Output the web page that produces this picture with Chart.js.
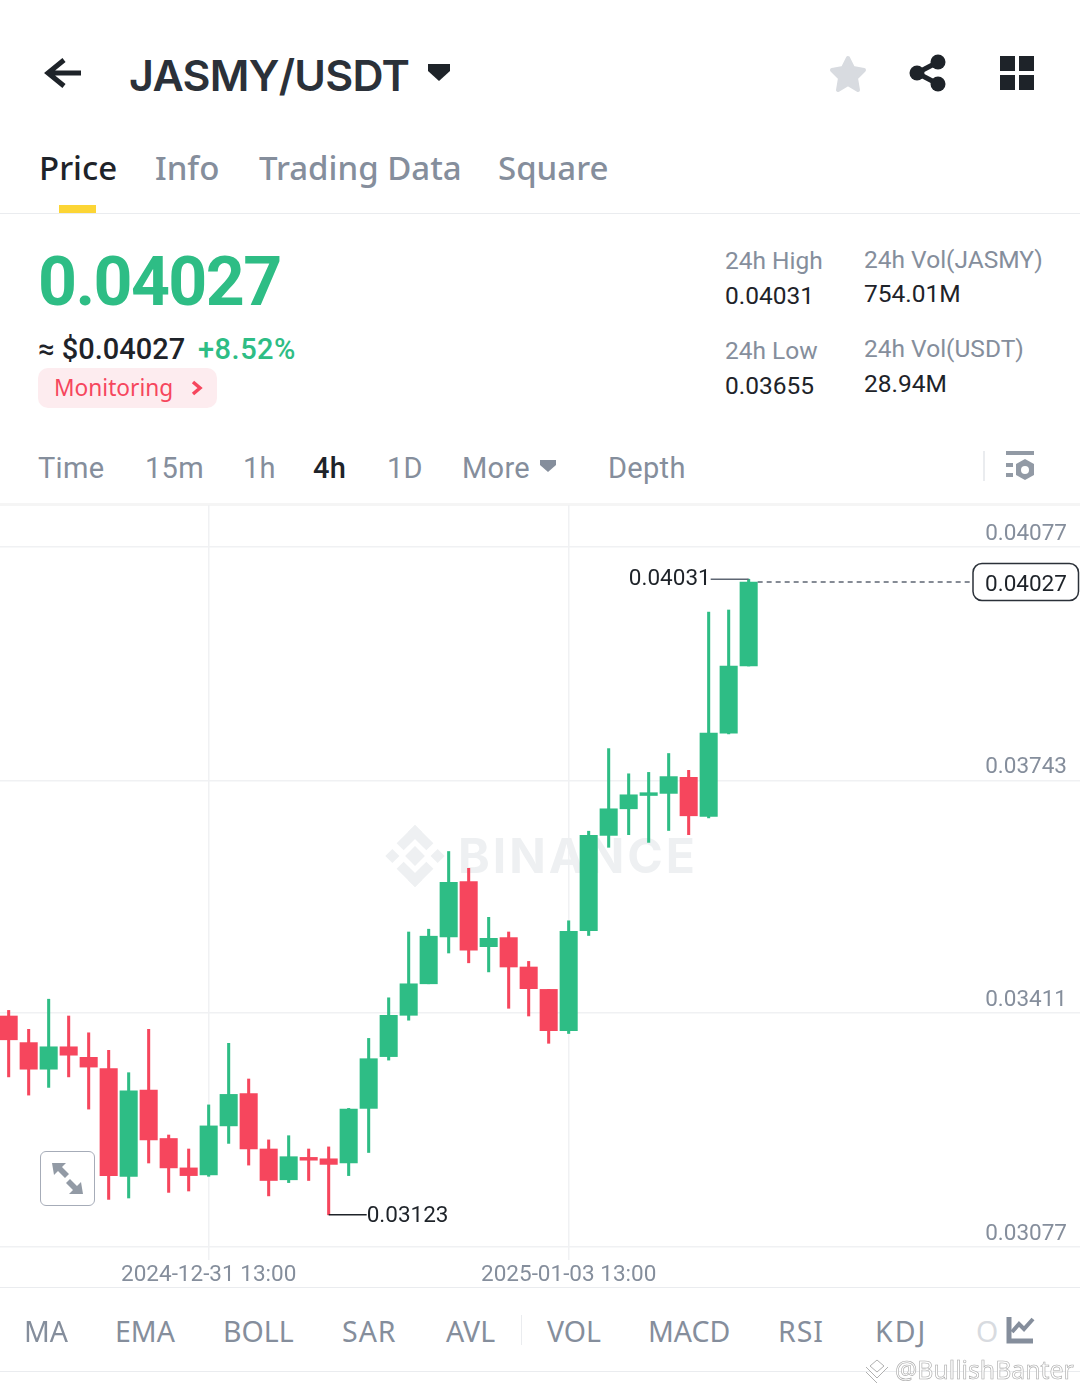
<!DOCTYPE html>
<html>
<head>
<meta charset="utf-8">
<title>JASMY/USDT</title>
<script src="https://cdn.jsdelivr.net/npm/chart.js@4/dist/chart.umd.min.js"></script>
<style>
  html, body { margin: 0; padding: 0; background: #fff; }
  #page { position: relative; width: 1080px; height: 1391px; overflow: hidden; font-family: "Noto Sans", sans-serif; }
  #page canvas { position: absolute; left: 0; top: 505px; }
  .t { position: absolute; line-height: 1; white-space: nowrap; transform: translateY(-50%); color: #858e9c; z-index: 2; }
  .line { position: absolute; background: #eaecef; }
  .tab { font-size: 33px; font-weight: 500; }
  .stat { font-size: 24.5px; font-family: Roboto, sans-serif; }
  .dark { color: #1e2329; }
  .iv { font-size: 29px; font-family: Roboto, sans-serif; letter-spacing: .3px; }
  .ind { font-size: 28.5px; }
  svg { position: absolute; left: 0; top: 0; z-index: 3; }
</style>
</head>
<body>
<div id="page">
  <div class="t" style="left:129px;top:75px;font-size:43px;font-weight:600;color:#2b3139;font-family:Inter,sans-serif;letter-spacing:-.7px">JASMY/USDT</div>

  <div class="t tab dark" style="left:39px;top:167px">Price</div>
  <div class="t tab" style="left:155px;top:167px">Info</div>
  <div class="t tab" style="left:259px;top:167px">Trading Data</div>
  <div class="t tab" style="left:498px;top:167px">Square</div>
  <div class="line" style="left:59px;top:205px;width:37px;height:8px;background:#fcd535"></div>
  <div class="line" style="left:0;top:213px;width:1080px;height:1px"></div>

  <div class="t" style="left:38px;top:282px;font-size:68px;font-weight:700;color:#2ebd85;font-family:Roboto,sans-serif;letter-spacing:-1.6px">0.04027</div>
  <div class="t dark" style="left:38px;top:349px;font-size:29px;font-weight:500;font-family:Roboto,sans-serif">≈ $0.04027</div>
  <div class="t" style="left:198px;top:349px;font-size:29px;font-weight:500;color:#2ebd85;font-family:Roboto,sans-serif;letter-spacing:.5px">+8.52%</div>
  <div class="line" style="left:38px;top:368px;width:179px;height:40px;border-radius:10px;background:#fdecef"></div>
  <div class="t" style="left:54px;top:388px;font-size:22.7px;color:#f6465d">Monitoring</div>

  <div class="t stat" style="left:725px;top:261px">24h High</div>
  <div class="t stat dark" style="left:725px;top:296px">0.04031</div>
  <div class="t stat" style="left:725px;top:351px">24h Low</div>
  <div class="t stat dark" style="left:725px;top:386px">0.03655</div>
  <div class="t stat" style="left:864px;top:260px">24h Vol(JASMY)</div>
  <div class="t stat dark" style="left:864px;top:294px">754.01M</div>
  <div class="t stat" style="left:864px;top:349px">24h Vol(USDT)</div>
  <div class="t stat dark" style="left:864px;top:384px">28.94M</div>

  <div class="t iv" style="left:38px;top:468px">Time</div>
  <div class="t iv" style="left:145px;top:468px">15m</div>
  <div class="t iv" style="left:243px;top:468px">1h</div>
  <div class="t iv dark" style="left:313px;top:468px;font-weight:500">4h</div>
  <div class="t iv" style="left:387px;top:468px">1D</div>
  <div class="t iv" style="left:462px;top:468px">More</div>
  <div class="t iv" style="left:608px;top:468px">Depth</div>
  <div class="line" style="left:983px;top:451px;width:2px;height:30px"></div>
  <div class="line" style="left:0;top:503px;width:1080px;height:3px;background:#f5f5f5"></div>

  <canvas id="klineChart" width="1080" height="782" style="width:1080px;height:782px"></canvas>

  <div class="line" style="left:40px;top:1151px;width:53px;height:53px;border:1.5px solid #a6acb8;border-radius:6px;background:#fff;z-index:2"></div>

  <div class="line" style="left:0;top:1287px;width:1080px;height:1px"></div>
  <div class="t ind" style="left:24px;top:1331px">MA</div>
  <div class="t ind" style="left:115px;top:1331px">EMA</div>
  <div class="t ind" style="left:223px;top:1331px">BOLL</div>
  <div class="t ind" style="left:342px;top:1331px;letter-spacing:1px">SAR</div>
  <div class="t ind" style="left:446px;top:1331px">AVL</div>
  <div class="line" style="left:521px;top:1315px;width:1px;height:30px"></div>
  <div class="t ind" style="left:547px;top:1331px">VOL</div>
  <div class="t ind" style="left:648px;top:1331px">MACD</div>
  <div class="t ind" style="left:778px;top:1331px;letter-spacing:1px">RSI</div>
  <div class="t ind" style="left:875px;top:1331px;letter-spacing:2px">KDJ</div>
  <div class="t ind" style="left:976px;top:1331px;color:#d8dbe0">O</div>
  <div class="line" style="left:0;top:1371px;width:1080px;height:1px"></div>
  <div class="t" style="left:895px;top:1369px;font-size:24.8px;color:#fff;-webkit-text-stroke:.6px #a8a8a8;z-index:4">@BullishBanter</div>

  <svg width="1080" height="1391" viewBox="0 0 1080 1391">
    <!-- back arrow and caret -->
    <path d="M81 73H50M64 60L48 73L64 86" fill="none" stroke="#1e2329" stroke-width="5"/>
    <path d="M428 64H450V71L439 81L428 71Z" fill="#1e2329"/>
    <!-- star, share, grid -->
    <path d="M848 58L853 68L864 70L856 78L858 90L848 84L838 90L840 78L832 70L843 68Z" fill="#d8dbe0" stroke="#d8dbe0" stroke-width="4" stroke-linejoin="round"/>
    <path d="M938 62L917 73L938 84" fill="none" stroke="#1e2329" stroke-width="5"/>
    <circle cx="938" cy="62" r="7.5" fill="#1e2329"/><circle cx="917" cy="73" r="7.5" fill="#1e2329"/><circle cx="938" cy="84" r="7.5" fill="#1e2329"/>
    <path d="M1000 56h15v15h-15zM1019 56h15v15h-15zM1000 75h15v15h-15zM1019 75h15v15h-15z" fill="#1e2329"/>
    <!-- monitoring chevron, more caret -->
    <path d="M193 382L200 388L193 394" fill="none" stroke="#f6465d" stroke-width="3.5"/>
    <path d="M540 460H556V465L548 472L540 465Z" fill="#858e9c"/>
    <!-- chart settings -->
    <path d="M1006 451h28v4h-28zM1006 463h7v4h-7zM1006 473h7v4h-7z" fill="#929aa5"/>
    <path d="M1025 459L1034 464V475L1025 480L1016 475V464Z" fill="#929aa5"/>
    <circle cx="1025" cy="470" r="4" fill="#fff"/>
    <!-- expand button -->
    <path d="M52 1163h14l-4 4 7 7-4 4-7-7-4 4-2-12zM83 1194h-14l4-4-7-7 4-4 7 7 4-4 2 12z" fill="#929aa5"/>
    <!-- indicator icon -->
    <path d="M1009 1317V1341H1033" fill="none" stroke="#858e9c" stroke-width="5"/>
    <path d="M1012 1332L1019 1324L1024 1329L1033 1319" fill="none" stroke="#858e9c" stroke-width="4"/>
    <!-- watermark logo -->
    <path d="M877 1360L884 1366L877 1372L870 1366ZM866 1367L877 1378L888 1367M877 1383L866 1372" fill="#fff" stroke="#b0b0b0" stroke-width="1"/>
  </svg>
</div>

<script>
// 4h candles
const openPrices  = [0.03407,0.03369,0.03331,0.03363,0.03348,0.03332,0.03178,0.03301,0.03232,0.03190,0.03180,0.03250,0.03296,0.03217,0.03173,0.03205,0.03203,0.03197,0.03275,0.03349,0.03408,0.03453,0.03520,0.03599,0.03506,0.03519,0.03477,0.03445,0.03386,0.03529,0.03665,0.03703,0.03722,0.03725,0.03748,0.03692,0.03811,0.03907];
const highPrices  = [0.03415,0.03388,0.03431,0.03407,0.03383,0.03358,0.03326,0.03388,0.03237,0.03217,0.03280,0.03368,0.03317,0.03230,0.03236,0.03217,0.03220,0.03275,0.03375,0.03433,0.03527,0.03531,0.03642,0.03618,0.03548,0.03527,0.03485,0.03445,0.03543,0.03671,0.03789,0.03753,0.03755,0.03782,0.03758,0.03984,0.03987,0.04031];
const lowPrices   = [0.03320,0.03294,0.03305,0.03320,0.03274,0.03145,0.03147,0.03197,0.03155,0.03157,0.03178,0.03225,0.03194,0.03150,0.03169,0.03172,0.03123,0.03179,0.03212,0.03344,0.03401,0.03453,0.03497,0.03483,0.03470,0.03418,0.03407,0.03368,0.03382,0.03522,0.03648,0.03666,0.03655,0.03672,0.03666,0.03690,0.03810,0.03907];
const closePrices = [0.03373,0.03331,0.03363,0.03351,0.03334,0.03179,0.03300,0.03230,0.03190,0.03179,0.03250,0.03295,0.03217,0.03172,0.03206,0.03201,0.03195,0.03274,0.03346,0.03408,0.03453,0.03521,0.03598,0.03501,0.03518,0.03477,0.03446,0.03386,0.03528,0.03665,0.03703,0.03723,0.03726,0.03749,0.03693,0.03811,0.03907,0.04027];

const priceTicks = [0.04077, 0.03743, 0.03411, 0.03077];
const dateTickIndex = [10, 28];
const dateTickLabels = ["2024-12-31 13:00", "2025-01-03 13:00"];

const upColor = "#2ebd85";
const downColor = "#f6465d";
const gridColor = "#f0f1f3";

const candleColors = closePrices.map((c, i) => (c >= openPrices[i] ? upColor : downColor));
const wickData = highPrices.map((h, i) => ({ x: i, y: [lowPrices[i], h] }));
const bodyData = closePrices.map((c, i) => ({ x: i, y: [Math.min(openPrices[i], c), Math.max(openPrices[i], c)] }));

// faint logo behind the candles
const watermark = {
  id: "watermark",
  beforeDatasetsDraw(chart) {
    const ctx = chart.ctx;
    ctx.save();
    ctx.fillStyle = "#eef0f2";
    ctx.font = "700 48px Inter, sans-serif";
    ctx.letterSpacing = "3px";
    ctx.textBaseline = "middle";
    ctx.fillText("BINANCE", 458, 354);
    ctx.translate(415, 351);
    ctx.rotate(Math.PI / 4);
    [[-7, -7, 14, 14], [-22, -22, 26, 10], [-22, -22, 10, 26], [-4, 12, 26, 10], [12, -4, 10, 26], [-21, 11, 10, 10], [11, -21, 10, 10]].forEach(r => ctx.fillRect(r[0], r[1], r[2], r[3]));
    ctx.restore();
  }
};

// last price line, high and low callouts
const callouts = {
  id: "callouts",
  afterDatasetsDraw(chart) {
    const ctx = chart.ctx;
    const xs = chart.scales.x;
    const ys = chart.scales.y;
    const last = closePrices.length - 1;
    const lastY = ys.getPixelForValue(closePrices[last]);
    const hi = Math.max(...highPrices);
    const lo = Math.min(...lowPrices);
    const hiX = xs.getPixelForValue(highPrices.indexOf(hi));
    const hiY = ys.getPixelForValue(hi);
    const loX = xs.getPixelForValue(lowPrices.indexOf(lo));
    const loY = ys.getPixelForValue(lo);

    ctx.save();
    ctx.font = "22.5px Roboto, sans-serif";
    ctx.textBaseline = "middle";

    ctx.strokeStyle = "#5e6673";
    ctx.lineWidth = 1.5;
    ctx.setLineDash([5, 4]);
    ctx.beginPath();
    ctx.moveTo(xs.getPixelForValue(last) + 9, lastY);
    ctx.lineTo(973, lastY);
    ctx.stroke();
    ctx.setLineDash([]);

    ctx.fillStyle = "#fff";
    ctx.strokeStyle = "#2b3139";
    ctx.lineWidth = 1.5;
    ctx.beginPath();
    ctx.roundRect(973, lastY - 18.5, 105.5, 37, 9);
    ctx.fill();
    ctx.stroke();
    ctx.fillStyle = "#1e2329";
    ctx.textAlign = "center";
    ctx.fillText(closePrices[last].toFixed(5), 1026, lastY + 3);

    ctx.strokeStyle = "#5e6673";
    ctx.lineWidth = 1.5;
    ctx.beginPath();
    ctx.moveTo(hiX - 38, hiY);
    ctx.lineTo(hiX, hiY);
    ctx.stroke();
    ctx.textAlign = "right";
    ctx.fillText(hi.toFixed(5), hiX - 38, hiY);

    ctx.strokeStyle = "#1e2329";
    ctx.beginPath();
    ctx.moveTo(loX, loY);
    ctx.lineTo(loX + 38, loY);
    ctx.stroke();
    ctx.textAlign = "left";
    ctx.fillText(lo.toFixed(5), loX + 38, loY + 2);
    ctx.restore();
  }
};

new Chart(document.getElementById("klineChart"), {
  type: "bar",
  data: {
    datasets: [
      { data: wickData, backgroundColor: candleColors, barThickness: 2.4, grouped: false, order: 2, borderWidth: 0 },
      { data: bodyData, backgroundColor: candleColors, barThickness: 17.4, grouped: false, order: 1, borderWidth: 0 }
    ]
  },
  options: {
    responsive: false,
    animation: false,
    layout: { padding: 0, autoPadding: false },
    plugins: { legend: { display: false }, tooltip: { enabled: false } },
    scales: {
      x: {
        type: "linear",
        offset: false,
        min: -0.4335,
        max: 53.5665,
        afterFit(scale) { scale.height = 40; },
        afterBuildTicks(scale) { scale.ticks = dateTickIndex.map(v => ({ value: v })); },
        border: { display: false },
        grid: { offset: false, color: gridColor, lineWidth: 1.5, tickLength: 13 },
        ticks: {
          autoSkip: false,
          maxRotation: 0,
          padding: 2,
          color: "#858e9c",
          font: { family: "Roboto, sans-serif", size: 22.5 },
          callback: v => dateTickLabels[dateTickIndex.indexOf(v)]
        }
      },
      y: {
        position: "right",
        min: 0.03077,
        max: 0.04137,
        // mirrored labels and their offset must not push the plot area in
        afterFit(scale) { scale.width = 0; scale.paddingTop = 0; scale.paddingBottom = 0; },
        afterBuildTicks(scale) { scale.ticks = priceTicks.map(v => ({ value: v })); },
        border: { display: false },
        grid: { color: gridColor, lineWidth: 1.5, drawTicks: false },
        ticks: {
          mirror: true,
          padding: -13,
          labelOffset: -13,
          color: "#858e9c",
          font: { family: "Roboto, sans-serif", size: 22.5 },
          callback: v => v.toFixed(5)
        }
      }
    }
  },
  plugins: [watermark, callouts]
});
</script>
</body>
</html>
